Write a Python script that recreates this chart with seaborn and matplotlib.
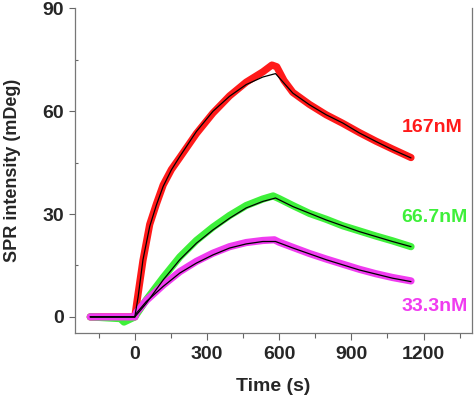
import numpy as np
import pandas as pd
import matplotlib
matplotlib.use("Agg")
import matplotlib.pyplot as plt
from matplotlib.ticker import MultipleLocator
import seaborn as sns

red_t = [-185, 0, 10, 34, 62, 90, 118, 152, 187, 256, 325, 394, 463, 532, 570, 590, 620, 657, 726, 795, 864, 933, 1002, 1071, 1148]
red_y = [0, 0, 5, 16.5, 27, 33, 38.5, 43, 46.5, 53.5, 59.5, 64.5, 68.5, 71.5, 73.5, 73, 69, 65.5, 62, 59, 56.5, 53.8, 51.3, 49, 46.5]
green_t = [-185, -60, -45, 0, 48, 118, 187, 256, 325, 394, 463, 532, 575, 600, 657, 726, 795, 864, 933, 1002, 1071, 1148]
green_y = [0, -0.5, -1.5, 0, 5, 11.5, 17.5, 22.3, 26.2, 29.6, 32.5, 34.4, 35.3, 34.5, 32.5, 30.2, 28.5, 26.6, 25.1, 23.6, 22.2, 20.5]
magenta_t = [-185, 0, 7, 48, 118, 187, 256, 325, 394, 463, 532, 580, 600, 657, 726, 795, 864, 933, 1002, 1071, 1148]
magenta_y = [0, 0, 1.3, 4.8, 9.3, 13.2, 16.2, 18.6, 20.5, 21.7, 22.3, 22.5, 21.8, 20.3, 18.5, 16.9, 15.4, 13.9, 12.6, 11.5, 10.5]

# fitted curves
red_fit_t = [-185, 0, 14, 34, 62, 90, 118, 152, 187, 256, 325, 394, 463, 532, 585, 657, 726, 795, 864, 933, 1002, 1071, 1148]
red_fit_y = [0, 0, 5.9, 16.7, 26.4, 32.7, 38.1, 42.9, 46.8, 54.1, 60.0, 64.4, 67.8, 70.0, 71.0, 65.3, 61.9, 59.0, 56.6, 53.7, 51.2, 48.8, 46.4]
green_fit_t = [-185, 0, 48, 118, 187, 256, 325, 394, 463, 532, 585, 657, 795, 933, 1071, 1148]
green_fit_y = [0, 0, 4.0, 10.8, 16.7, 21.5, 25.4, 28.8, 31.8, 33.7, 34.7, 32.2, 28.3, 24.9, 22.0, 20.5]
magenta_fit_t = [-185, 0, 7, 48, 118, 187, 256, 325, 394, 463, 532, 585, 657, 795, 933, 1071, 1148]
magenta_fit_y = [0, 0, 1.1, 4.5, 8.9, 12.8, 15.7, 18.1, 20.1, 21.3, 22.0, 22.0, 20.1, 16.7, 13.7, 11.3, 10.3]

labels = ["167nM", "66.7nM", "33.3nM"]
label_y = [55.2, 28.9, 2.9]

colors = ["#ff1a1a", "#3ef03a", "#f03cf0"]

sns.set_style("ticks")
plt.rcParams['font.family'] = ['Liberation Sans', 'DejaVu Sans']
plt.rcParams['font.weight'] = 'bold'

fig = plt.figure(figsize=(4.74, 3.99), dpi=100)
ax = fig.add_axes([0.158, 0.1654, 0.838, 0.8133])

traces = [(red_t, red_y), (green_t, green_y), (magenta_t, magenta_y)]
fits = [(red_fit_t, red_fit_y), (green_fit_t, green_fit_y), (magenta_fit_t, magenta_fit_y)]

for (t, y), c in zip(traces, colors):
    sns.lineplot(x=t, y=y, ax=ax, color=c, lw=5.2, sort=False, estimator=None)
for t, y in fits:
    sns.lineplot(x=t, y=y, ax=ax, color='black', lw=0.9, sort=False, estimator=None)

for lab, ly, c in zip(labels, label_y, colors):
    ax.text(1108, ly, lab, color=c, fontsize=14, fontweight='bold', ha='left', va='center')

ax.set_xlim(-249, 1402)
ax.set_ylim(-4.7, 90)
ax.xaxis.set_major_locator(MultipleLocator(300))
ax.xaxis.set_minor_locator(MultipleLocator(150))
ax.yaxis.set_major_locator(MultipleLocator(30))
ax.yaxis.set_minor_locator(MultipleLocator(15))

ax.tick_params(axis='x', which='major', direction='out', length=5, width=0.8, color='#666666', labelsize=14, pad=4)
ax.tick_params(axis='x', which='minor', direction='out', length=3.5, width=0.8, color='#666666')
ax.tick_params(axis='y', which='major', direction='out', length=4, width=0.8, color='#666666', labelsize=14, pad=4)
ax.tick_params(axis='y', which='minor', direction='in', length=2.5, width=0.8, color='#666666')

for side in ['left', 'bottom', 'right']:
    ax.spines[side].set_color('#777777')
    ax.spines[side].set_linewidth(0.9)
ax.spines['top'].set_visible(False)

ax.set_xlabel('Time (s)', fontsize=14, fontweight='bold', labelpad=11)
ax.set_ylabel('SPR intensity (mDeg)', fontsize=13, fontweight='bold', labelpad=15)

fig.savefig('out.png', dpi=100)
